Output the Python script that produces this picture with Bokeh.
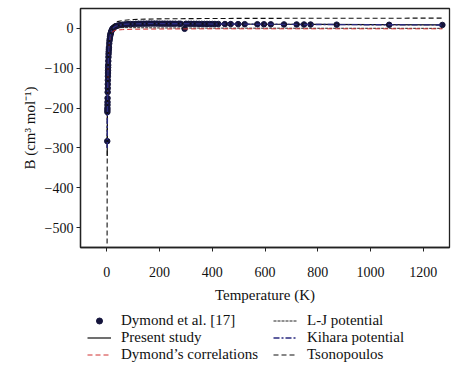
from bokeh.plotting import figure
from bokeh.layouts import column
from bokeh.models import Legend, LegendItem, CustomJSTickFormatter, Range1d, FixedTicker
from bokeh.embed import file_html
from bokeh.resources import INLINE

# Dymond et al. [17] experimental points
dym_T = [1.5, 2.0, 2.1, 2.2, 2.4, 2.5, 2.7, 3.0, 3.3, 3.5, 3.8, 4.0, 4.3, 4.5, 4.8, 5.0, 5.5, 6.0,
         6.5, 7.0, 7.5, 8.0, 9.0, 10.0, 11.0, 12.0, 13.0, 14.0, 15.0, 16.0, 18.0, 20.0, 22.0, 25.0,
         30.0, 35.0, 40.0, 50.0, 60.0, 70.0, 80.0, 90.0, 100.0, 110.0, 120.0, 130.0, 140.0, 150.0,
         160.0, 170.0, 180.0, 190.0, 200.0, 210.0, 220.0, 230.0, 240.0, 250.0, 260.0, 273.0, 280.0,
         295.0, 300.0, 310.0, 320.0, 330.0, 340.0, 350.0, 360.0, 370.0, 380.0, 390.0, 400.0, 410.0,
         423.0, 448.0, 470.0, 498.0, 523.0, 571.0, 596.0, 622.0, 672.0, 720.0, 748.0, 773.0, 872.0,
         1071.0, 1273.0]
dym_B = [-283, -210, -205, -200, -192, -185, -175, -160, -150, -140, -130, -120, -112, -105, -98,
         -92, -82, -72, -64, -58, -52, -47, -38, -31, -26, -21, -17, -14, -11.5, -9, -5, -2.5, -0.5,
         1.5, 4.0, 5.8, 7.0, 8.5, 9.5, 10.2, 10.8, 11.2, 11.4, 11.6, 11.8, 11.9, 12.0, 12.0, 12.1,
         12.1, 12.1, 12.1, 12.0, 12.0, 12.0, 11.9, 11.9, 11.8, 11.8, 11.8, 11.7, -1.0, 11.7, 11.6,
         11.6, 11.5, 11.5, 11.4, 11.4, 11.3, 11.3, 11.2, 11.2, 11.1, 11.1, 11.0, 10.9, 10.8, 10.7,
         10.5, 10.4, 10.3, 10.1, 10.0, 9.9, 9.8, 9.5, 9.1, 8.7]

# Present study
pres_T = [1.4, 2, 2.5, 3, 4, 5, 6, 8, 10, 12, 15, 20, 25, 30, 40, 50, 70, 100, 150, 200, 300,
          400, 600, 800, 1000, 1273]
pres_B = [-320, -215, -185, -160, -120, -92, -72, -47, -31, -21, -12, -2.5, 1.5, 4, 7, 8.5, 10.2,
          11.4, 12, 12.1, 11.8, 11.3, 10.5, 9.9, 9.4, 8.8]

# Kihara potential
kih_T = [1.5, 2, 2.5, 3, 4, 5, 6, 8, 10, 12, 15, 20, 25, 30, 40, 50, 70, 100, 150, 200, 300,
         400, 600, 800, 1000, 1273]
kih_B = [-300, -210, -182, -158, -118, -90, -70, -46, -30, -20, -11.5, -2, 2, 4.3, 7.2, 8.7,
         10.3, 11.4, 11.9, 12.0, 11.7, 11.2, 10.4, 9.8, 9.3, 8.7]

# L-J potential
lj_T = [1.3, 1.5, 2, 3, 4, 5, 6, 8, 10, 15, 20, 30, 40, 60, 100, 200, 400, 800, 1273]
lj_B = [-300, -260, -200, -135, -100, -78, -62, -42, -30, -12, -4, 0.5, 1.5, 2, 1.8, 1.2, 0.8,
        0.4, 0.2]

# Dymond's correlations
dc_T = [2, 3, 4, 5, 6, 8, 10, 15, 20, 30, 40, 60, 100, 200, 400, 800, 1273]
dc_B = [-230, -165, -125, -98, -78, -52, -37, -17, -9, -5, -4, -3, -2, -1.5, -1, -1, -1]

# Tsonopoulos
ts_T = [0.9, 1.0, 1.2, 1.5, 2, 3, 4, 5, 6, 8, 10, 15, 20, 30, 40, 60, 100, 200, 400, 800, 1273]
ts_B = [-540, -470, -380, -290, -210, -135, -95, -72, -56, -36, -24, -6, 4, 13, 17, 20, 22.5,
        24, 25, 25.5, 25.8]

x_ticks = [0, 200, 400, 600, 800, 1000, 1200]
y_ticks = [0, -100, -200, -300, -400, -500]

series_labels = ["Dymond et al. [17]", "Present study", "Dymond\u2019s correlations",
                 "L-J potential", "Kihara potential", "Tsonopoulos"]

FONT = "Liberation Serif"
INK = "#111111"

STYLES = {
    "ts": dict(color=INK, line_width=1.1, line_dash="5 3"),
    "lj": dict(color="#222222", line_width=1.0, line_dash="3 1"),
    "dc": dict(color="#d03030", line_width=1.0, line_dash="5 3"),
    "pres": dict(color=INK, line_width=1.2),
    "kih": dict(color="#2a2a80", line_width=1.4, line_dash="6 2 2 2"),
}
DOT = dict(size=5.5, color="#14143c")

p = figure(width=458, height=305, output_backend="svg", toolbar_location=None,
           x_range=Range1d(-100, 1300), y_range=Range1d(-550, 50),
           min_border_left=80, min_border_right=9, min_border_top=8, min_border_bottom=58)

p.grid.visible = False
p.outline_line_color = "#222222"
p.outline_line_width = 1.3

p.scatter(dym_T, dym_B, **DOT)
p.line(ts_T, ts_B, **STYLES["ts"])
p.line(lj_T, lj_B, **STYLES["lj"])
p.line(dc_T, dc_B, **STYLES["dc"])
p.line(pres_T, pres_B, **STYLES["pres"])
p.line(kih_T, kih_B, **STYLES["kih"])

minus_fmt = CustomJSTickFormatter(code="""
    return tick < 0 ? "\\u2212" + Math.abs(tick) : tick.toString();
""")

for ax in (p.xaxis[0], p.yaxis[0]):
    ax.major_label_text_font = FONT
    ax.major_label_text_font_size = "14px"
    ax.major_label_text_color = INK
    ax.axis_label_text_font = FONT
    ax.axis_label_text_font_size = "15px"
    ax.axis_label_text_font_style = "normal"
    ax.axis_label_text_color = INK
    ax.minor_tick_line_color = None
    ax.major_tick_out = 4
    ax.major_tick_in = 0
    ax.major_tick_line_color = "#222222"
    ax.axis_line_color = "#222222"
    ax.axis_line_width = 1.3

p.xaxis[0].ticker = FixedTicker(ticks=x_ticks)
p.yaxis[0].ticker = FixedTicker(ticks=y_ticks)
p.yaxis[0].formatter = minus_fmt
p.xaxis.axis_label = "Temperature (K)"
p.yaxis.axis_label = "B (cm\u00b3 mol\u207b\u00b9)"
p.xaxis[0].major_label_standoff = 15
p.xaxis[0].axis_label_standoff = 7
p.yaxis[0].major_label_standoff = 3
p.yaxis[0].axis_label_standoff = 4

# legend panel (separate figure below the plot)
lg = figure(width=458, height=62, output_backend="svg", toolbar_location=None,
            x_range=Range1d(0, 1), y_range=Range1d(0, 1),
            x_axis_location=None, y_axis_location=None,
            min_border_left=0, min_border_right=0, min_border_top=0, min_border_bottom=0)
lg.grid.visible = False
lg.outline_line_color = None

NOPT = [float("nan")]
r_dym = lg.scatter(NOPT, NOPT, size=4.5, color="#14143c")
r_pres = lg.line(NOPT, NOPT, **STYLES["pres"])
r_dc = lg.line(NOPT, NOPT, **STYLES["dc"])
r_lj = lg.line(NOPT, NOPT, **STYLES["lj"])
r_kih = lg.line(NOPT, NOPT, **STYLES["kih"])
r_ts = lg.line(NOPT, NOPT, **STYLES["ts"])
rends = [r_dym, r_pres, r_dc, r_lj, r_kih, r_ts]

legend = Legend(items=[LegendItem(label=l, renderers=[r]) for l, r in zip(series_labels, rends)],
                ncols=2, location=(7, 4))
legend.label_text_font = FONT
legend.label_text_font_size = "15px"
legend.label_text_color = INK
legend.border_line_color = None
legend.background_fill_alpha = 0
legend.glyph_width = 24
legend.glyph_height = 15
legend.label_height = 15
legend.label_width = 152
legend.spacing = 0
legend.padding = 0
legend.margin = 0
legend.label_standoff = 10
lg.add_layout(legend, "center")

layout = column(p, lg, spacing=0)
open("out.html", "w").write(file_html(layout, INLINE))
